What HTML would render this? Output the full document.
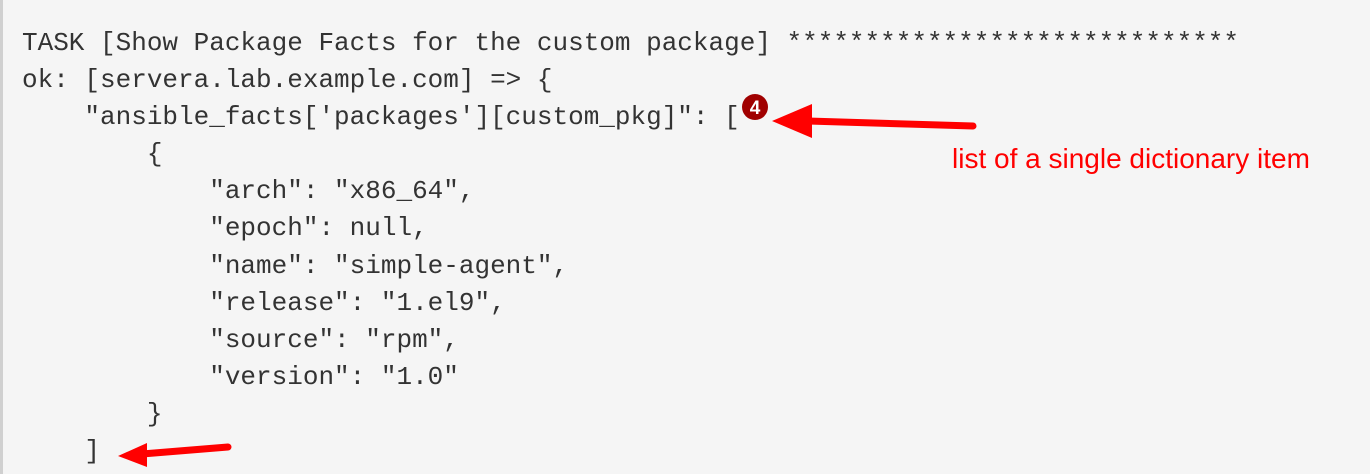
<!DOCTYPE html>
<html><head><meta charset="utf-8"><style>
html,body{margin:0;padding:0;}
body{width:1370px;height:474px;background:#f5f5f5;position:relative;overflow:hidden;}
.bl{position:absolute;left:0;top:0;width:3px;height:474px;background:#d0d0d0;}
pre{position:absolute;left:22px;top:25px;margin:0;font-family:"Liberation Mono",monospace;font-size:26px;line-height:37.1px;color:#333;}
.lbl{position:absolute;left:952px;top:143px;font-family:"Liberation Sans",sans-serif;font-size:28px;color:#f00;}
svg{position:absolute;left:0;top:0;}
</style></head><body>
<div class="bl"></div>
<pre>TASK [Show Package Facts for the custom package] *****************************
ok: [servera.lab.example.com] =&gt; {
    "ansible_facts['packages'][custom_pkg]": [
        {
            "arch": "x86_64",
            "epoch": null,
            "name": "simple-agent",
            "release": "1.el9",
            "source": "rpm",
            "version": "1.0"
        }
    ]</pre>
<div class="lbl">list of a single dictionary item</div>
<svg width="1370" height="474">
<circle cx="755" cy="107" r="13" fill="#a00000"/>
<text x="755" y="114" text-anchor="middle" font-family="Liberation Sans,sans-serif" font-weight="bold" font-size="19" fill="#fff">4</text>
<line x1="808" y1="121" x2="973" y2="126" stroke="#f00" stroke-width="7" stroke-linecap="round"/>
<polygon points="772,121 812,104 812,138" fill="#f00"/>
<line x1="142" y1="454" x2="228" y2="447" stroke="#f00" stroke-width="7" stroke-linecap="round"/>
<polygon points="118,456 147,443 147,467" fill="#f00"/>
</svg>
</body></html>
